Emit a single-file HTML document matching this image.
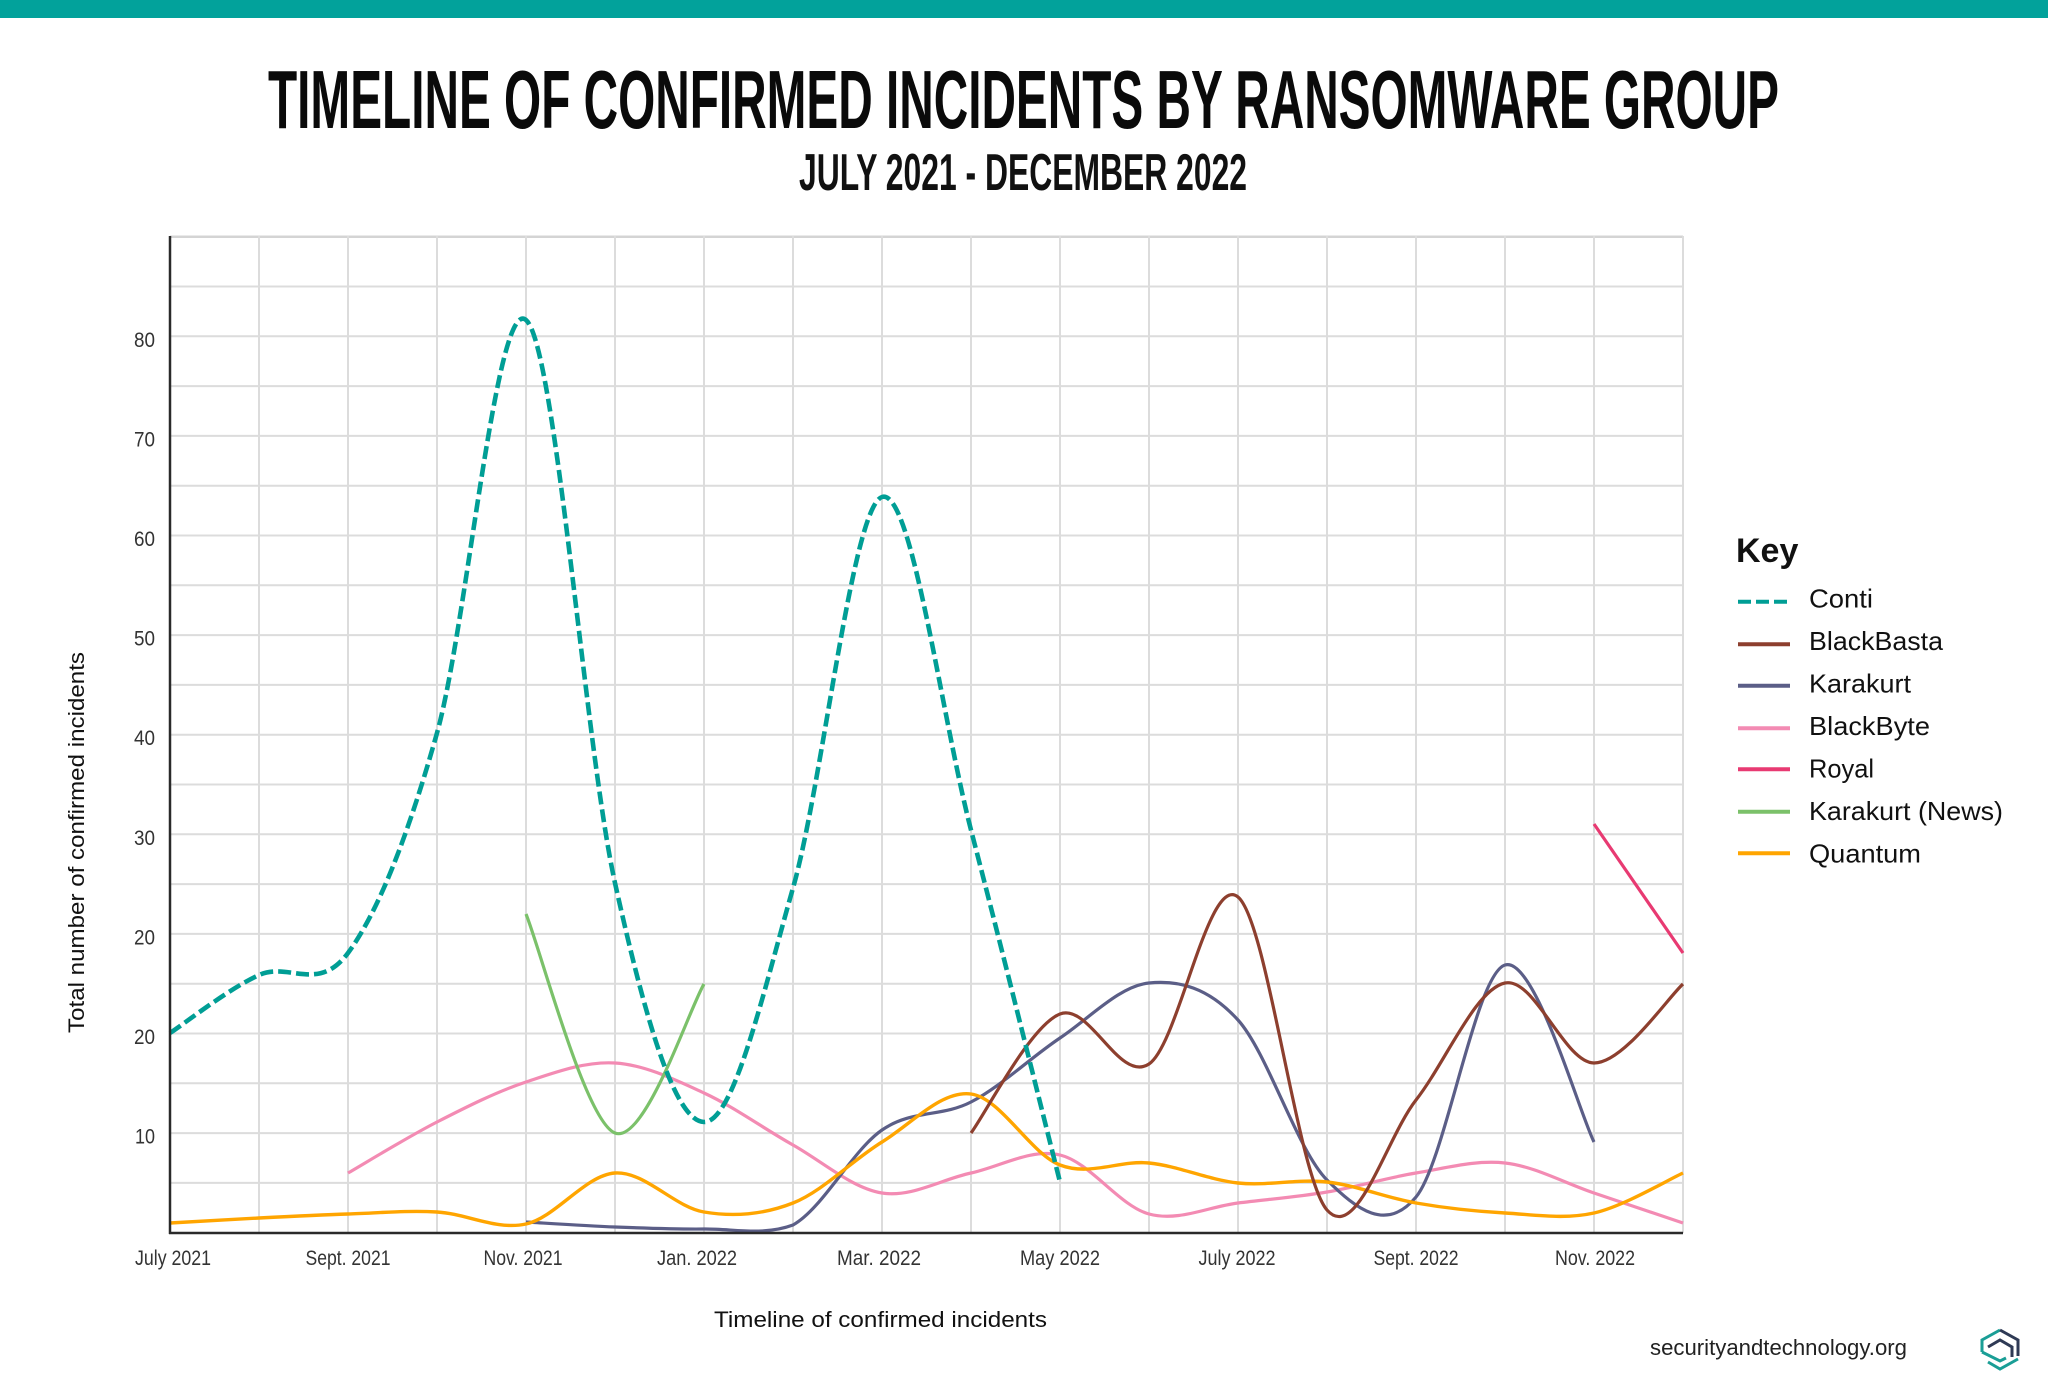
<!DOCTYPE html>
<html>
<head>
<meta charset="utf-8">
<style>
  html,body{margin:0;padding:0;background:#ffffff;}
  svg{display:block;}
  text{font-family:"Liberation Sans",Arial,sans-serif;}
</style>
</head>
<body>
<svg width="2048" height="1396" viewBox="0 0 2048 1396" xmlns="http://www.w3.org/2000/svg">
  <rect x="0" y="0" width="2048" height="1396" fill="#ffffff"/>
  <!-- top bar -->
  <rect x="0" y="0" width="2048" height="18" fill="#02a29b"/>

  <!-- titles -->
  <text x="268" y="128" font-size="83" font-weight="bold" fill="#0a0a0a" textLength="1511" lengthAdjust="spacingAndGlyphs">TIMELINE OF CONFIRMED INCIDENTS BY RANSOMWARE GROUP</text>
  <text x="799" y="190" font-size="52" font-weight="bold" fill="#111111" textLength="448" lengthAdjust="spacingAndGlyphs">JULY 2021 - DECEMBER 2022</text>

  <!-- grid -->
  <g stroke="#dcdcdc" stroke-width="2" fill="none">
    <line x1="170" y1="1182.9" x2="1683" y2="1182.9"/>
    <line x1="170" y1="1133.1" x2="1683" y2="1133.1"/>
    <line x1="170" y1="1083.3" x2="1683" y2="1083.3"/>
    <line x1="170" y1="1033.5" x2="1683" y2="1033.5"/>
    <line x1="170" y1="983.7" x2="1683" y2="983.7"/>
    <line x1="170" y1="933.9" x2="1683" y2="933.9"/>
    <line x1="170" y1="884.1" x2="1683" y2="884.1"/>
    <line x1="170" y1="834.3" x2="1683" y2="834.3"/>
    <line x1="170" y1="784.5" x2="1683" y2="784.5"/>
    <line x1="170" y1="734.7" x2="1683" y2="734.7"/>
    <line x1="170" y1="684.9" x2="1683" y2="684.9"/>
    <line x1="170" y1="635.1" x2="1683" y2="635.1"/>
    <line x1="170" y1="585.3" x2="1683" y2="585.3"/>
    <line x1="170" y1="535.5" x2="1683" y2="535.5"/>
    <line x1="170" y1="485.7" x2="1683" y2="485.7"/>
    <line x1="170" y1="435.9" x2="1683" y2="435.9"/>
    <line x1="170" y1="386.1" x2="1683" y2="386.1"/>
    <line x1="170" y1="336.3" x2="1683" y2="336.3"/>
    <line x1="170" y1="286.5" x2="1683" y2="286.5"/>
    <line x1="170" y1="236.7" x2="1683" y2="236.7" stroke="#d4d4d4" stroke-width="2.5"/>
    <line x1="259" y1="236" x2="259" y2="1233"/>
    <line x1="348" y1="236" x2="348" y2="1233"/>
    <line x1="437" y1="236" x2="437" y2="1233"/>
    <line x1="526" y1="236" x2="526" y2="1233"/>
    <line x1="615" y1="236" x2="615" y2="1233"/>
    <line x1="704" y1="236" x2="704" y2="1233"/>
    <line x1="793" y1="236" x2="793" y2="1233"/>
    <line x1="882" y1="236" x2="882" y2="1233"/>
    <line x1="971" y1="236" x2="971" y2="1233"/>
    <line x1="1060" y1="236" x2="1060" y2="1233"/>
    <line x1="1149" y1="236" x2="1149" y2="1233"/>
    <line x1="1238" y1="236" x2="1238" y2="1233"/>
    <line x1="1327" y1="236" x2="1327" y2="1233"/>
    <line x1="1416" y1="236" x2="1416" y2="1233"/>
    <line x1="1505" y1="236" x2="1505" y2="1233"/>
    <line x1="1594" y1="236" x2="1594" y2="1233"/>
    <line x1="1683" y1="236" x2="1683" y2="1233"/>
  </g>

  <!-- series -->
  <g fill="none" stroke-linejoin="round">
    <!-- BlackByte -->
    <path stroke="#f38bb3" stroke-width="3.2" d="M348,1173 C362.83,1164.5 407.33,1137.17 437,1122 C466.67,1106.83 496.33,1091.83 526,1082 C555.67,1072.17 585.33,1061.17 615,1063 C644.67,1064.83 674.33,1079.33 704,1093 C733.67,1106.67 763.33,1128.33 793,1145 C822.67,1161.67 852.33,1188.33 882,1193 C911.67,1197.67 941.33,1179.33 971,1173 C1000.67,1166.67 1030.33,1148.17 1060,1155 C1089.67,1161.83 1119.33,1206 1149,1214 C1178.67,1222 1208.33,1206.67 1238,1203 C1267.67,1199.33 1297.33,1197 1327,1192 C1356.67,1187 1386.33,1177.83 1416,1173 C1445.67,1168.17 1475.33,1159.67 1505,1163 C1534.67,1166.33 1564.33,1183 1594,1193 C1623.67,1203 1668.17,1218 1683,1223"/>
    <!-- Karakurt -->
    <path stroke="#5b5e87" stroke-width="3.2" d="M526,1222 C540.83,1222.83 585.33,1225.83 615,1227 C644.67,1228.17 674.33,1229.33 704,1229 C733.67,1228.67 763.33,1236 793,1225 C822.67,1208.5 852.33,1150.5 882,1130 C911.67,1109.5 941.33,1117.33 971,1102 C1000.67,1086.67 1030.33,1057.83 1060,1038 C1089.67,1018.17 1119.33,986 1149,983 C1178.67,980 1208.33,987.17 1238,1020 C1267.67,1052.83 1297.33,1150.5 1327,1180 C1356.67,1209.5 1386.33,1232.83 1416,1197 C1445.67,1161.17 1475.33,974.17 1505,965 C1534.67,955.83 1579.17,1112.5 1594,1142"/>
    <!-- Quantum -->
    <path stroke="#ffa500" stroke-width="3.4" d="M170,1223 C184.83,1222.17 229.33,1219.5 259,1218 C288.67,1216.5 318.33,1215 348,1214 C377.67,1213 407.33,1210.33 437,1212 C466.67,1213.67 496.33,1230.5 526,1224 C555.67,1217.5 585.33,1175 615,1173 C644.67,1171 674.33,1207 704,1212 C733.67,1217 763.33,1214.67 793,1203 C822.67,1191.33 852.33,1160.17 882,1142 C911.67,1123.83 941.33,1090.17 971,1094 C1000.67,1097.83 1030.33,1153.5 1060,1165 C1089.67,1176.5 1119.33,1160 1149,1163 C1178.67,1166 1208.33,1179.83 1238,1183 C1267.67,1186.17 1297.33,1178.67 1327,1182 C1356.67,1185.33 1386.33,1197.83 1416,1203 C1445.67,1208.17 1475.33,1211.33 1505,1213 C1534.67,1214.67 1564.33,1219.67 1594,1213 C1623.67,1206.33 1668.17,1179.67 1683,1173"/>
    <!-- BlackBasta -->
    <path stroke="#8d3f2e" stroke-width="3.2" d="M971,1133 C985.83,1113.17 1030.33,1025.5 1060,1014 C1089.67,1002.5 1119.33,1083.5 1149,1064 C1178.67,1044.5 1208.33,872.67 1238,897 C1267.67,921.33 1297.33,1176.17 1327,1210 C1356.67,1243.83 1386.33,1137.83 1416,1100 C1445.67,1062.17 1475.33,989.17 1505,983 C1534.67,976.83 1564.33,1062.83 1594,1063 C1623.67,1063.17 1668.17,997.17 1683,984"/>
    <!-- Karakurt (News) -->
    <path stroke="#7bc16a" stroke-width="3.2" d="M526,914 C540.83,950.5 585.33,1121.33 615,1133 C644.67,1144.67 689.17,1008.83 704,984"/>
    <!-- Conti -->
    <path stroke="#009e95" stroke-width="4.6" stroke-dasharray="13 5" stroke-linejoin="round" d="M170,1033 C184.83,1023.33 229.33,988.33 259,975 C288.67,961.67 318.33,993.33 348,953 C377.67,912.67 407.33,838.5 437,733 C466.67,627.5 496.33,295 526,320 C555.67,345 585.33,749.33 615,883 C644.67,1016.67 674.33,1121.17 704,1122 C733.67,1122.83 763.33,992.17 793,888 C822.67,783.83 852.33,506.67 882,497 C911.67,487.33 941.33,715.83 971,830 C1000.67,944.17 1045.17,1123.33 1060,1182"/>
    <!-- Royal -->
    <path stroke="#e83a72" stroke-width="3.2" d="M1594,824 L1683,953"/>
  </g>

  <!-- axes -->
  <line x1="170" y1="236" x2="170" y2="1234" stroke="#2a2a2a" stroke-width="2.5"/>
  <line x1="169" y1="1233" x2="1683" y2="1233" stroke="#2a2a2a" stroke-width="2.5"/>

  <!-- y tick labels -->
  <g font-size="21" fill="#333333" text-anchor="end">
    <text x="155" y="346.8" textLength="21" lengthAdjust="spacingAndGlyphs">80</text>
    <text x="155" y="446.4" textLength="21" lengthAdjust="spacingAndGlyphs">70</text>
    <text x="155" y="546" textLength="21" lengthAdjust="spacingAndGlyphs">60</text>
    <text x="155" y="645.6" textLength="21" lengthAdjust="spacingAndGlyphs">50</text>
    <text x="155" y="745.2" textLength="21" lengthAdjust="spacingAndGlyphs">40</text>
    <text x="155" y="844.8" textLength="21" lengthAdjust="spacingAndGlyphs">30</text>
    <text x="155" y="944.4" textLength="21" lengthAdjust="spacingAndGlyphs">20</text>
    <text x="155" y="1044" textLength="21" lengthAdjust="spacingAndGlyphs">20</text>
    <text x="155" y="1143.6" textLength="20" lengthAdjust="spacingAndGlyphs">10</text>
  </g>

  <!-- x tick labels -->
  <g font-size="21" fill="#333333" text-anchor="middle">
    <text x="173" y="1265" textLength="76" lengthAdjust="spacingAndGlyphs">July 2021</text>
    <text x="348" y="1265" textLength="85" lengthAdjust="spacingAndGlyphs">Sept. 2021</text>
    <text x="523" y="1265" textLength="79" lengthAdjust="spacingAndGlyphs">Nov. 2021</text>
    <text x="697" y="1265" textLength="80" lengthAdjust="spacingAndGlyphs">Jan. 2022</text>
    <text x="879" y="1265" textLength="84" lengthAdjust="spacingAndGlyphs">Mar. 2022</text>
    <text x="1060" y="1265" textLength="80" lengthAdjust="spacingAndGlyphs">May 2022</text>
    <text x="1237" y="1265" textLength="77" lengthAdjust="spacingAndGlyphs">July 2022</text>
    <text x="1416" y="1265" textLength="85" lengthAdjust="spacingAndGlyphs">Sept. 2022</text>
    <text x="1595" y="1265" textLength="80" lengthAdjust="spacingAndGlyphs">Nov. 2022</text>
  </g>

  <!-- axis titles -->
  <text x="714" y="1327" font-size="22" fill="#111111" textLength="333" lengthAdjust="spacingAndGlyphs">Timeline of confirmed incidents</text>
  <text transform="translate(84,1033) rotate(-90)" x="0" y="0" font-size="22" fill="#111111" textLength="381" lengthAdjust="spacingAndGlyphs">Total number of confirmed incidents</text>

  <!-- legend -->
  <text x="1736" y="562" font-size="34" font-weight="bold" fill="#111111">Key</text>
  <g stroke-width="4" fill="none">
    <line x1="1738" y1="601.7" x2="1790" y2="601.7" stroke="#009e95" stroke-dasharray="13 5"/>
    <line x1="1738" y1="644.3" x2="1790" y2="644.3" stroke="#8d3f2e"/>
    <line x1="1738" y1="685.7" x2="1790" y2="685.7" stroke="#5b5e87"/>
    <line x1="1738" y1="728.3" x2="1790" y2="728.3" stroke="#f38bb3"/>
    <line x1="1738" y1="769.3" x2="1790" y2="769.3" stroke="#e83a72"/>
    <line x1="1738" y1="811.7" x2="1790" y2="811.7" stroke="#7bc16a"/>
    <line x1="1738" y1="853.3" x2="1790" y2="853.3" stroke="#ffa500"/>
  </g>
  <g font-size="26" fill="#111111">
    <text x="1809" y="607.5" textLength="64" lengthAdjust="spacingAndGlyphs">Conti</text>
    <text x="1809" y="650" textLength="134" lengthAdjust="spacingAndGlyphs">BlackBasta</text>
    <text x="1809" y="692.5" textLength="102" lengthAdjust="spacingAndGlyphs">Karakurt</text>
    <text x="1809" y="735" textLength="121" lengthAdjust="spacingAndGlyphs">BlackByte</text>
    <text x="1809" y="777.5" textLength="65" lengthAdjust="spacingAndGlyphs">Royal</text>
    <text x="1809" y="820" textLength="194" lengthAdjust="spacingAndGlyphs">Karakurt (News)</text>
    <text x="1809" y="862.5" textLength="112" lengthAdjust="spacingAndGlyphs">Quantum</text>
  </g>

  <!-- footer -->
  <text x="1650" y="1355" font-size="22" fill="#222222" textLength="257" lengthAdjust="spacingAndGlyphs">securityandtechnology.org</text>
  <g fill="none" stroke-width="3" stroke-linejoin="miter">
    <polyline points="1982,1352 1982,1340 2000,1330" stroke="#1a9e96"/>
    <polyline points="2000,1330 2018,1340 2018,1356" stroke="#2f3a55"/>
    <polyline points="1988,1347 2000,1340 2012,1347 2012,1357" stroke="#2f3a55"/>
    <polyline points="1982,1352 2000,1361 2006,1358" stroke="#1a9e96"/>
    <polyline points="1988,1362 2000,1369 2018,1359" stroke="#1a9e96"/>
  </g>
</svg>
</body>
</html>
